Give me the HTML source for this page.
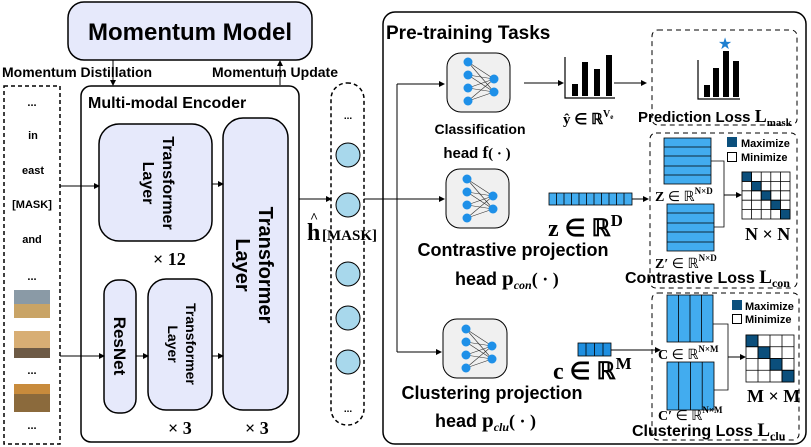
<!DOCTYPE html>
<html><head><meta charset="utf-8"><style>
html,body{margin:0;padding:0;background:#fff;}
svg{display:block;}
.b{font-family:"Liberation Sans",sans-serif;font-weight:bold;fill:#000;}
.s{font-family:"Liberation Serif",serif;font-weight:bold;fill:#000;}
</style></head><body>
<svg width="811" height="447" viewBox="0 0 811 447" xmlns="http://www.w3.org/2000/svg">
<defs>
<marker id="a" markerWidth="6" markerHeight="6" refX="5" refY="3" orient="auto" markerUnits="userSpaceOnUse"><path d="M0,0 L6,3 L0,6z" fill="#000"/></marker>
<g id="nn">
<g stroke="#333" stroke-width="0.6">
<line x1="0" y1="0" x2="26" y2="17"/><line x1="0" y1="0" x2="26" y2="30"/>
<line x1="0" y1="13" x2="26" y2="17"/><line x1="0" y1="13" x2="26" y2="30"/>
<line x1="0" y1="26" x2="26" y2="17"/><line x1="0" y1="26" x2="26" y2="30"/>
<line x1="0" y1="39" x2="26" y2="17"/><line x1="0" y1="39" x2="26" y2="30"/>
</g>
<g fill="#1e90e8"><circle cx="0" cy="0" r="4.5"/><circle cx="0" cy="13" r="4.5"/><circle cx="0" cy="26" r="4.5"/><circle cx="0" cy="39" r="4.5"/><circle cx="26" cy="17" r="4.5"/><circle cx="26" cy="30" r="4.5"/></g>
</g>
</defs>

<!-- Momentum model -->
<rect x="68" y="2" width="244" height="58" rx="16" fill="#e6e9fb" stroke="#000" stroke-width="1.5"/>
<text x="190" y="40" text-anchor="middle" class="b" font-size="24">Momentum Model</text>
<text x="2" y="77" class="b" font-size="14">Momentum Distillation</text>
<text x="212" y="77" class="b" font-size="14">Momentum Update</text>
<line x1="113" y1="60" x2="113" y2="85" stroke="#000" marker-end="url(#a)"/>
<line x1="280" y1="85" x2="280" y2="61" stroke="#000" marker-end="url(#a)"/>

<!-- inputs -->
<rect x="4" y="86" width="56" height="358" fill="none" stroke="#000" stroke-width="1.5" stroke-dasharray="4,3"/>
<g class="b" font-size="11" text-anchor="middle">
<text x="32" y="106">...</text><text x="33" y="139">in</text><text x="33" y="174">east</text>
<text x="32" y="208">[MASK]</text><text x="32" y="243">and</text><text x="32" y="280">...</text>
<text x="32" y="374">...</text><text x="32" y="429">...</text>
</g>
<rect x="14" y="290" width="36" height="28" fill="#c9a466"/><rect x="14" y="290" width="36" height="14" fill="#8a9aa6"/>
<rect x="14" y="331" width="36" height="27" fill="#d8ae74"/><rect x="14" y="348" width="36" height="10" fill="#6d5a45"/>
<rect x="14" y="384" width="36" height="28" fill="#8b6a3c"/><rect x="14" y="384" width="36" height="10" fill="#c88b3c"/>

<!-- encoder -->
<rect x="81" y="86" width="218" height="356" rx="10" fill="#fff" stroke="#000" stroke-width="1.5"/>
<text x="88" y="108" class="b" font-size="16">Multi-modal Encoder</text>
<rect x="99" y="124" width="113" height="117" rx="20" fill="#e6e9fb" stroke="#000" stroke-width="1.5"/>
<g class="b" font-size="16" text-anchor="middle">
<text transform="translate(161,183) rotate(90)" y="-2">Transformer</text>
<text transform="translate(141,183) rotate(90)" y="-2">Layer</text>
</g>
<text x="153" y="265" class="s" font-size="18">× 12</text>
<rect x="104" y="280" width="32" height="133" rx="14" fill="#e6e9fb" stroke="#000" stroke-width="1.5"/>
<text transform="translate(114,346) rotate(90)" text-anchor="middle" class="b" font-size="17">ResNet</text>
<rect x="148" y="279" width="64" height="131" rx="18" fill="#e6e9fb" stroke="#000" stroke-width="1.5"/>
<g class="b" font-size="14" text-anchor="middle">
<text transform="translate(186,344) rotate(90)">Transformer</text>
<text transform="translate(168,344) rotate(90)">Layer</text>
</g>
<text x="168" y="434" class="s" font-size="18">× 3</text>
<rect x="223" y="118" width="65" height="292" rx="20" fill="#e6e9fb" stroke="#000" stroke-width="1.5"/>
<g class="b" font-size="20" text-anchor="middle">
<text transform="translate(259,265) rotate(90)">Transformer</text>
<text transform="translate(236,265) rotate(90)">Layer</text>
</g>
<text x="245" y="434" class="s" font-size="18">× 3</text>
<g stroke="#000" stroke-width="1">
<line x1="60" y1="186" x2="99" y2="186" marker-end="url(#a)"/>
<line x1="60" y1="356" x2="104" y2="356" marker-end="url(#a)"/>
<line x1="136" y1="356" x2="148" y2="356" marker-end="url(#a)"/>
<line x1="212" y1="184" x2="223" y2="184" marker-end="url(#a)"/>
<line x1="212" y1="356" x2="223" y2="356" marker-end="url(#a)"/>
<line x1="299" y1="199" x2="331" y2="199" marker-end="url(#a)"/>
<line x1="364" y1="199" x2="397" y2="199"/>
</g>

<!-- hidden column -->
<rect x="331" y="83" width="33" height="342" rx="16" fill="none" stroke="#000" stroke-width="1.5" stroke-dasharray="4,3"/>
<g fill="#a8d8ec" stroke="#000" stroke-width="1">
<circle cx="348" cy="155" r="12"/><circle cx="348" cy="205" r="12"/><circle cx="348" cy="274" r="12"/><circle cx="348" cy="318" r="12"/><circle cx="348" cy="362" r="12"/>
</g>
<text x="348" y="119" text-anchor="middle" class="b" font-size="10">...</text>
<text x="348" y="412" text-anchor="middle" class="b" font-size="10">...</text>
<text x="307" y="240" class="s" font-size="24">h</text>
<text x="310" y="222" class="s" font-size="14">^</text>
<text x="322" y="240" class="s" font-size="15">[MASK]</text>

<!-- right panel -->
<rect x="383" y="12" width="423" height="432" rx="12" fill="none" stroke="#000" stroke-width="1.5"/>
<text x="386" y="39" class="b" font-size="19">Pre-training Tasks</text>
<g stroke="#000" stroke-width="1">
<polyline points="397,352 397,84" fill="none"/>
<line x1="397" y1="84" x2="444" y2="84" marker-end="url(#a)"/>
<line x1="397" y1="199" x2="444" y2="199" marker-end="url(#a)"/>
<line x1="397" y1="352" x2="441" y2="352" marker-end="url(#a)"/>
</g>
<rect x="447" y="53" width="63" height="59" rx="14" fill="#f0f0f0" stroke="#000"/>
<use href="#nn" x="468" y="62"/>
<rect x="446" y="169" width="63" height="59" rx="14" fill="#f0f0f0" stroke="#000"/>
<use href="#nn" x="467" y="179"/>
<rect x="443" y="319" width="64" height="59" rx="14" fill="#f0f0f0" stroke="#000"/>
<use href="#nn" x="466" y="329"/>
<text x="480" y="134" text-anchor="middle" class="b" font-size="14">Classification</text>
<text x="477" y="158" text-anchor="middle" class="b" font-size="15">head <tspan class="s" font-size="17">f</tspan><tspan class="s" font-weight="normal">( · )</tspan></text>
<text x="513" y="256" text-anchor="middle" class="b" font-size="18">Contrastive projection</text>
<text x="455" y="285" class="b" font-size="18">head <tspan class="s" font-size="21">p</tspan><tspan class="s" font-weight="normal" font-style="italic" font-size="12" dy="4">con</tspan><tspan class="s" font-weight="normal" dy="-4">( · )</tspan></text>
<text x="492" y="399" text-anchor="middle" class="b" font-size="18">Clustering projection</text>
<text x="435" y="427" class="b" font-size="18">head <tspan class="s" font-size="21">p</tspan><tspan class="s" font-weight="normal" font-style="italic" font-size="12" dy="4">clu</tspan><tspan class="s" font-weight="normal" dy="-4">( · )</tspan></text>

<!-- prediction -->
<line x1="524" y1="83" x2="563" y2="83" stroke="#000" marker-end="url(#a)"/>
<polyline points="565,57 565,98 615,98" fill="none" stroke="#000" stroke-width="1.2"/>
<g fill="#000"><rect x="572" y="84" width="6" height="12"/><rect x="582" y="62" width="6" height="34"/><rect x="594" y="69" width="6" height="27"/><rect x="606" y="55" width="6" height="41"/></g>
<text x="563" y="124" class="s" font-size="15">ŷ ∈ ℝ<tspan font-size="10" dy="-7">V</tspan><tspan font-size="7" dy="2">e</tspan></text>
<line x1="614" y1="83" x2="646" y2="83" stroke="#000" marker-end="url(#a)"/>
<rect x="652" y="30" width="145" height="95" rx="6" fill="none" stroke="#000" stroke-dasharray="5,4"/>
<polyline points="698,60 698,99 740,99" fill="none" stroke="#000" stroke-width="1.2"/>
<g fill="#000"><rect x="704" y="85" width="6" height="12"/><rect x="713" y="68" width="6" height="29"/><rect x="723" y="51" width="6" height="46"/><rect x="733" y="61" width="6" height="36"/></g>
<text x="725" y="49" text-anchor="middle" fill="#1e7fd0" font-size="16" font-family="DejaVu Sans">★</text>
<text x="638" y="122" class="b" font-size="15">Prediction Loss <tspan class="s" font-size="18">L</tspan><tspan class="s" font-size="11" dy="4">mask</tspan></text>

<!-- contrastive -->
<rect x="549" y="193" width="83" height="12" fill="#42acef" stroke="#000" stroke-width="0.8"/>
<g stroke="#000" stroke-width="0.8">
<line x1="556.5" y1="193" x2="556.5" y2="205"/><line x1="564" y1="193" x2="564" y2="205"/><line x1="571.5" y1="193" x2="571.5" y2="205"/><line x1="579" y1="193" x2="579" y2="205"/><line x1="586.5" y1="193" x2="586.5" y2="205"/><line x1="594" y1="193" x2="594" y2="205"/><line x1="601.5" y1="193" x2="601.5" y2="205"/><line x1="609" y1="193" x2="609" y2="205"/><line x1="616.5" y1="193" x2="616.5" y2="205"/><line x1="624" y1="193" x2="624" y2="205"/>
</g>
<line x1="632" y1="199" x2="648" y2="199" stroke="#000" marker-end="url(#a)"/>
<text x="548" y="236" class="s" font-size="24">z ∈ ℝ<tspan font-size="17" dy="-10">D</tspan></text>
<rect x="650" y="133" width="147" height="155" rx="6" fill="none" stroke="#000" stroke-dasharray="5,4"/>
<g stroke="#000" stroke-width="0.8">
<rect x="664" y="138" width="47" height="46" fill="#42acef"/>
<line x1="664" y1="147" x2="711" y2="147"/><line x1="664" y1="156" x2="711" y2="156"/><line x1="664" y1="166" x2="711" y2="166"/><line x1="664" y1="175" x2="711" y2="175"/>
<rect x="667" y="204" width="47" height="47" fill="#42acef"/>
<line x1="667" y1="213" x2="714" y2="213"/><line x1="667" y1="223" x2="714" y2="223"/><line x1="667" y1="232" x2="714" y2="232"/><line x1="667" y1="242" x2="714" y2="242"/>
<polyline points="711,161 724,161 724,227 714,227" fill="none"/>
</g>
<line x1="724" y1="195" x2="741" y2="195" stroke="#000" marker-end="url(#a)"/>
<text x="655" y="201" class="s" font-size="14">Z <tspan font-weight="normal">∈ ℝ</tspan><tspan font-size="9" dy="-7">N×D</tspan></text>
<text x="655" y="268" class="s" font-size="14">Z′ <tspan font-weight="normal">∈ ℝ</tspan><tspan font-size="9" dy="-7">N×D</tspan></text>
<g stroke="#000" stroke-width="0.8" fill="#fff">
<rect x="742" y="172" width="48" height="47"/>
<rect x="742" y="172" width="9.6" height="9.4" fill="#0b4f7c"/><rect x="751.6" y="181.4" width="9.6" height="9.4" fill="#0b4f7c"/><rect x="761.2" y="190.8" width="9.6" height="9.4" fill="#0b4f7c"/><rect x="770.8" y="200.2" width="9.6" height="9.4" fill="#0b4f7c"/><rect x="780.4" y="209.6" width="9.6" height="9.4" fill="#0b4f7c"/>
<line x1="751.6" y1="172" x2="751.6" y2="219"/><line x1="761.2" y1="172" x2="761.2" y2="219"/><line x1="770.8" y1="172" x2="770.8" y2="219"/><line x1="780.4" y1="172" x2="780.4" y2="219"/>
<line x1="742" y1="181.4" x2="790" y2="181.4"/><line x1="742" y1="190.8" x2="790" y2="190.8"/><line x1="742" y1="200.2" x2="790" y2="200.2"/><line x1="742" y1="209.6" x2="790" y2="209.6"/>
</g>
<text x="745" y="240" class="s" font-size="18">N × N</text>
<rect x="727" y="137" width="10" height="10" fill="#0b4f7c"/>
<rect x="727.5" y="152.5" width="9" height="9" fill="#fff" stroke="#000"/>
<text x="741" y="147" class="b" font-size="11">Maximize</text>
<text x="741" y="161" class="b" font-size="11">Minimize</text>
<text x="625" y="283" class="b" font-size="16">Contrastive Loss <tspan class="s" font-size="19">L</tspan><tspan class="s" font-size="12" dy="4">con</tspan></text>

<!-- clustering -->
<rect x="578" y="343" width="33" height="13" fill="#1f8fe0" stroke="#000" stroke-width="0.8"/>
<g stroke="#000" stroke-width="0.8"><line x1="586" y1="343" x2="586" y2="356"/><line x1="594.5" y1="343" x2="594.5" y2="356"/><line x1="603" y1="343" x2="603" y2="356"/></g>
<line x1="611" y1="350" x2="660" y2="350" stroke="#000" marker-end="url(#a)"/>
<text x="553" y="379" class="s" font-size="24">c ∈ ℝ<tspan font-size="17" dy="-10">M</tspan></text>
<rect x="652" y="293" width="147" height="147" rx="6" fill="none" stroke="#000" stroke-dasharray="5,4"/>
<g stroke="#000" stroke-width="0.8">
<rect x="667" y="295" width="46" height="47" fill="#42acef"/>
<line x1="678.5" y1="295" x2="678.5" y2="342"/><line x1="690" y1="295" x2="690" y2="342"/><line x1="701.5" y1="295" x2="701.5" y2="342"/>
<rect x="667" y="362" width="47" height="48" fill="#42acef"/>
<line x1="678.7" y1="362" x2="678.7" y2="410"/><line x1="690.5" y1="362" x2="690.5" y2="410"/><line x1="702.2" y1="362" x2="702.2" y2="410"/>
<polyline points="713,324 728,324 728,390 714,390" fill="none"/>
</g>
<line x1="728" y1="357" x2="745" y2="357" stroke="#000" marker-end="url(#a)"/>
<text x="658" y="359" class="s" font-size="14">C <tspan font-weight="normal">∈ ℝ</tspan><tspan font-size="9" dy="-7">N×M</tspan></text>
<text x="658" y="420" class="s" font-size="14">C′ <tspan font-weight="normal">∈ ℝ</tspan><tspan font-size="9" dy="-7">N×M</tspan></text>
<g stroke="#000" stroke-width="0.8" fill="#fff">
<rect x="746" y="335" width="48" height="47"/>
<rect x="746" y="335" width="12" height="11.75" fill="#0b4f7c"/><rect x="758" y="346.75" width="12" height="11.75" fill="#0b4f7c"/><rect x="770" y="358.5" width="12" height="11.75" fill="#0b4f7c"/><rect x="782" y="370.25" width="12" height="11.75" fill="#0b4f7c"/>
<line x1="758" y1="335" x2="758" y2="382"/><line x1="770" y1="335" x2="770" y2="382"/><line x1="782" y1="335" x2="782" y2="382"/>
<line x1="746" y1="346.75" x2="794" y2="346.75"/><line x1="746" y1="358.5" x2="794" y2="358.5"/><line x1="746" y1="370.25" x2="794" y2="370.25"/>
</g>
<text x="747" y="402" class="s" font-size="18">M × M</text>
<rect x="732" y="300" width="10" height="10" fill="#0b4f7c"/>
<rect x="732.5" y="314.5" width="9" height="9" fill="#fff" stroke="#000"/>
<text x="745" y="310" class="b" font-size="11">Maximize</text>
<text x="745" y="323" class="b" font-size="11">Minimize</text>
<text x="632" y="436" class="b" font-size="16">Clustering Loss <tspan class="s" font-size="19">L</tspan><tspan class="s" font-size="12" dy="4">clu</tspan></text>
</svg>
</body></html>
